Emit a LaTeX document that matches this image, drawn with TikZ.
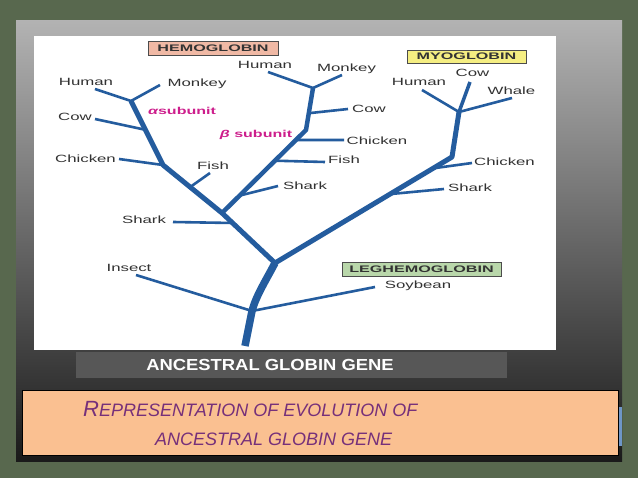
\documentclass[tikz,border=0pt]{standalone}
\usepackage{fontspec}
\setmainfont{Liberation Sans}
\newfontfamily\lblfont[FakeStretch=1.6]{Liberation Sans}
\newfontfamily\tagfont[FakeStretch=1.7]{Liberation Sans}
\newfontfamily\barfont[FakeStretch=1.15]{Liberation Sans}
\usetikzlibrary{calc}
\definecolor{bggreen}{RGB}{88,104,78}
\definecolor{treeblue}{RGB}{36,92,158}
\definecolor{lblgray}{RGB}{50,50,50}
\definecolor{subpink}{RGB}{205,30,140}
\definecolor{hemofill}{RGB}{240,185,165}
\definecolor{myofill}{RGB}{245,238,130}
\definecolor{legfill}{RGB}{185,215,170}
\definecolor{peach}{RGB}{250,192,145}
\definecolor{capviolet}{RGB}{118,48,122}
\definecolor{edgeblue}{RGB}{110,150,200}
\newcommand\capR[1]{{\fontsize{22}{22}\selectfont #1}}
\begin{document}
\begin{tikzpicture}[x=1pt,y=-1pt,
  lbl/.style={font=\lblfont\fontsize{10.5}{12}\selectfont,text=lblgray,inner sep=0pt,text height=7.5pt,text depth=0pt},
  sub/.style={font=\lblfont\bfseries\fontsize{10}{12}\selectfont,text=subpink,inner sep=0pt,text height=7pt,text depth=0pt},
  tagbox/.style={draw=black!70,line width=0.7pt,font=\tagfont\bfseries\fontsize{9.5}{11}\selectfont,text=black!80,inner sep=0pt,minimum height=14pt},
  br/.style={draw=treeblue,line width=2.6pt},
  stem/.style={draw=treeblue,line width=5pt,line join=round},
  capline/.style={font=\itshape\fontsize{18}{20}\selectfont,text=capviolet,inner sep=0pt,anchor=base west}]
\useasboundingbox (0,0) rectangle (638,478);
\fill[bggreen] (0,0) rectangle (638,478);
\shade[top color=black!30,bottom color=black!90] (16,21) rectangle (622,462);
\fill[white] (34,36) rectangle (556,350);
\fill[black!66] (76,352) rectangle (507,378);
\node[font=\barfont\bfseries\fontsize{16}{18}\selectfont,text=white,inner sep=0pt] (gene) at (270,365) {ANCESTRAL GLOBIN GENE};
\fill[edgeblue] (615,407) rectangle (622,446);
\filldraw[fill=peach,draw=black,line width=0.8pt] (22,390) rectangle (618,455);
\node[capline] (cap1) at (83,417) {\capR{R}EPRESENTATION OF EVOLUTION OF};
\node[capline] (cap2) at (155,446) {ANCESTRAL GLOBIN GENE};
% family tags
\node[tagbox,fill=hemofill,minimum width=130pt] (hemo) at (213,48) {HEMOGLOBIN};
\node[tagbox,fill=myofill,minimum width=119pt,minimum height=13pt] (myo) at (466.5,56.5) {MYOGLOBIN};
\node[tagbox,fill=legfill,minimum width=159pt] (leg) at (421.5,269) {LEGHEMOGLOBIN};
% branch points
\coordinate (root) at (245,346);
\coordinate (J0) at (252,311);
\coordinate (J1) at (275,263);
\coordinate (Jab) at (222,213);
\coordinate (aBend) at (163,165);
\coordinate (aTop) at (131,101);
\coordinate (bBend) at (306,130);
\coordinate (bTop) at (313,88);
\coordinate (mBend) at (452,157);
\coordinate (mTop) at (459,112);
% stems
\draw[stem,line width=7.5pt] (J1) .. controls (265,282) and (256,296) .. (J0) -- (root);
\draw[stem] (aTop) -- (aBend) -- (Jab) -- (J1);
\draw[stem,line width=4.5pt] (bTop) -- (bBend) -- (Jab);
\draw[stem] (mTop) -- (mBend) -- (J1);
% alpha subunit
\node[lbl] (aHum) at (86,82) {Human};
\node[lbl] (aMon) at (197,83) {Monkey};
\node[lbl] (aCow) at (75,116.5) {Cow};
\node[lbl] (aChi) at (85.5,159) {Chicken};
\node[lbl] (aFis) at (213,165.5) {Fish};
\node[lbl] (aSha) at (144,220) {Shark};
\node[sub] (aSub) at (182,111.5) {{\itshape α}subunit};
\coordinate (aHumT) at (95,89);
\coordinate (aMonT) at (160,85);
\coordinate (aCowT) at (95,119);
\coordinate (aChiT) at (119,159);
\coordinate (aFisT) at (210,173);
\coordinate (aShaT) at (173,222);
\draw[br] (aHumT) -- (aTop);
\draw[br] (aMonT) -- (aTop);
\draw[br] (aCowT) -- ($(aTop)!0.45!(aBend)$);
\draw[br] (aChiT) -- (aBend);
\draw[br] (aFisT) -- ($(aBend)!0.46!(Jab)$);
\draw[br] (aShaT) -- ($(Jab)!0.2!(J1)$);
% beta subunit
\node[lbl] (bHum) at (265,64.5) {Human};
\node[lbl] (bMon) at (346.5,68) {Monkey};
\node[lbl] (bCow) at (369,109) {Cow};
\node[lbl] (bChi) at (377,140.5) {Chicken};
\node[lbl] (bFis) at (344,160) {Fish};
\node[lbl] (bSha) at (305,185.5) {Shark};
\node[sub] (bSub) at (256,134) {{\itshape β} subunit};
\coordinate (bHumT) at (268,72);
\coordinate (bMonT) at (342,75);
\coordinate (bCowT) at (348,109);
\coordinate (bChiT) at (344,140);
\coordinate (bFisT) at (325,162);
\coordinate (bShaT) at (278,186);
\draw[br] (bHumT) -- (bTop);
\draw[br] (bMonT) -- (bTop);
\draw[br] (bCowT) -- ($(bTop)!0.6!(bBend)$);
\draw[br] (bChiT) -- ($(bBend)!0.12!(Jab)$);
\draw[br] (bFisT) -- ($(bBend)!0.37!(Jab)$);
\draw[br] (bShaT) -- ($(bBend)!0.79!(Jab)$);
% myoglobin
\node[lbl] (mCow) at (472.5,73) {Cow};
\node[lbl] (mHum) at (419,82) {Human};
\node[lbl] (mWha) at (511.5,91) {Whale};
\node[lbl] (mChi) at (504.5,162) {Chicken};
\node[lbl] (mSha) at (470,187.5) {Shark};
\coordinate (mCowT) at (470,82);
\coordinate (mHumT) at (422,90);
\coordinate (mWhaT) at (512,98);
\coordinate (mChiT) at (472,163);
\coordinate (mShaT) at (444,189);
\draw[br,line width=3.5pt] (mCowT) -- (mTop);
\draw[br] (mHumT) -- (mTop);
\draw[br] (mWhaT) -- (mTop);
\draw[br] (mChiT) -- ($(mBend)!0.107!(J1)$);
\draw[br] (mShaT) -- ($(mBend)!0.35!(J1)$);
% leghemoglobin and insect
\node[lbl] (ins) at (129,268) {Insect};
\node[lbl] (soy) at (418,285) {Soybean};
\coordinate (insT) at (136,275);
\coordinate (soyT) at (375,287);
\draw[br] (insT) -- (J0);
\draw[br] (soyT) -- (J0);
\end{tikzpicture}
\end{document}
